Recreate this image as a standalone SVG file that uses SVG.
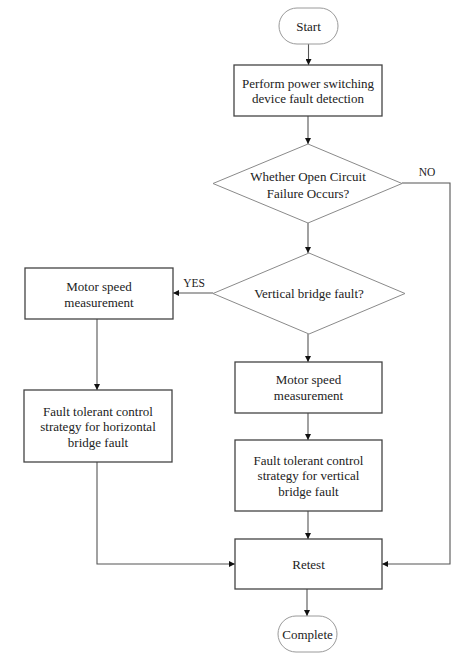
<svg xmlns="http://www.w3.org/2000/svg" width="474" height="660" viewBox="0 0 474 660">
<style>
text{font-family:'Liberation Serif','Times New Roman',Times,serif;font-size:13px;fill:#222;text-anchor:middle}
.box{fill:#fff;stroke:#444;stroke-width:1.3}
.dia{fill:#fff;stroke:#8a8a8a;stroke-width:1}
.term{fill:#fff;stroke:#9a9a9a;stroke-width:1}
.con{fill:none;stroke:#555;stroke-width:1.1}
.lbl{font-size:11.5px}
</style>
<defs>
<marker id="arr" viewBox="0 0 10 10" refX="10" refY="5" markerWidth="6" markerHeight="6" markerUnits="userSpaceOnUse" orient="auto">
<path d="M0,0 L10,5 L0,10 z" fill="#111"/>
</marker>
</defs>
<rect width="474" height="660" fill="#fff"/>
<g font-family="Liberation Serif, Times New Roman, serif">
<g id="connectors">
<path class="con" d="M308.5,44 V65" marker-end="url(#arr)"/>
<path class="con" d="M308,116 V144" marker-end="url(#arr)"/>
<path class="con" d="M308,223 V253" marker-end="url(#arr)"/>
<path class="con" d="M402,183 H450 V564 H382" marker-end="url(#arr)"/>
<path class="con" d="M213,293 H173" marker-end="url(#arr)"/>
<path class="con" d="M308,334 V362" marker-end="url(#arr)"/>
<path class="con" d="M308,413 V440" marker-end="url(#arr)"/>
<path class="con" d="M308,511 V539" marker-end="url(#arr)"/>
<path class="con" d="M97,319 V390" marker-end="url(#arr)"/>
<path class="con" d="M97,462 V564 H235" marker-end="url(#arr)"/>
<path class="con" d="M307,589 V616" marker-end="url(#arr)"/>
<text class="lbl" x="427" y="176">NO</text>
<text class="lbl" x="194" y="287">YES</text>
</g>
<g id="start">
<rect class="term" x="279" y="8" width="59" height="36" rx="18" ry="18"/>
<text x="308.5" y="30.5">Start</text>
</g>
<g id="detect">
<rect class="box" x="234" y="65" width="148" height="51"/>
<text x="308" y="87.5">Perform power switching</text>
<text x="308" y="102.5">device fault detection</text>
</g>
<g id="open-circuit">
<polygon class="dia" points="308,144 402,183.5 308,223 213,183.5"/>
<text x="308" y="180.5">Whether Open Circuit</text>
<text x="308" y="197.5">Failure Occurs?</text>
</g>
<g id="vertical-fault">
<polygon class="dia" points="309,253 405,293.5 309,334 213,293.5"/>
<text x="309" y="298">Vertical bridge fault?</text>
</g>
<g id="speed-left">
<rect class="box" x="25" y="268" width="148" height="51"/>
<text x="99" y="290.5">Motor speed</text>
<text x="99" y="306.5">measurement</text>
</g>
<g id="ftc-horizontal">
<rect class="box" x="24" y="390" width="148" height="72"/>
<text x="98" y="415.5">Fault tolerant control</text>
<text x="98" y="430.5">strategy for horizontal</text>
<text x="98" y="446.5">bridge fault</text>
</g>
<g id="speed-right">
<rect class="box" x="235" y="362" width="147" height="51"/>
<text x="308.5" y="383.5">Motor speed</text>
<text x="308.5" y="399.5">measurement</text>
</g>
<g id="ftc-vertical">
<rect class="box" x="235" y="440" width="147" height="71"/>
<text x="308.5" y="464.5">Fault tolerant control</text>
<text x="308.5" y="479.5">strategy for vertical</text>
<text x="308.5" y="495.5">bridge fault</text>
</g>
<g id="retest">
<rect class="box" x="235" y="539" width="147" height="50"/>
<text x="308.5" y="568.5">Retest</text>
</g>
<g id="complete">
<rect class="term" x="278" y="616" width="59" height="36" rx="18" ry="18"/>
<text x="307.5" y="638.5">Complete</text>
</g>
</g>
</svg>
